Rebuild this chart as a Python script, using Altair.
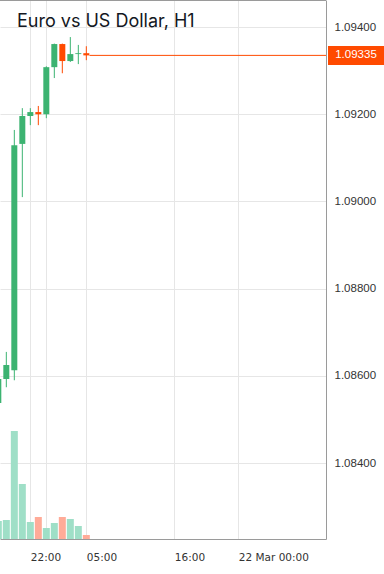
import altair as alt
import pandas as pd

chart_title = "Euro vs US Dollar, H1"
# hourly candles, hours counted from 21 Mar 00:00 (20 Mar 18:00 ... 21 Mar 05:00)
hours = [-6, -5, -4, -3, -2, -1, 0, 1, 2, 3, 4, 5]
opens = [1.08538, 1.08593, 1.08613, 1.09132, 1.09196, 1.09205, 1.09200, 1.09308, 1.09361, 1.09322, 1.09338, 1.09340]
highs = [1.08600, 1.08655, 1.09164, 1.09214, 1.09214, 1.09219, 1.09310, 1.09362, 1.09362, 1.09377, 1.09359, 1.09356]
lows = [1.08520, 1.08574, 1.08590, 1.09010, 1.09175, 1.09175, 1.09191, 1.09283, 1.09294, 1.09320, 1.09315, 1.09324]
closes = [1.08593, 1.08625, 1.09129, 1.09196, 1.09205, 1.09200, 1.09308, 1.09361, 1.09322, 1.09338, 1.09340, 1.09335]
volumes = [1800, 1900, 10800, 5500, 1700, 2200, 1100, 1600, 2200, 2000, 1300, 400]
last_price = 1.09335

price_ticks = [1.084, 1.086, 1.088, 1.090, 1.092, 1.094]
time_ticks = [-2, 0, 5, 16, 24]
time_labels = ["22:00", "", "05:00", "16:00", "22 Mar 00:00"]

x_domain = [-5.79, 34.96]
y_domain = [1.08226, 1.09462]
vol_domain = [0, 53900]

GREEN = "#3cb371"
RED = "#ff4a00"
VGREEN = "#9fdfc7"
VRED = "#ffab98"
GRID = "#e6e6e6"
FRAME = "#9a9a9a"

W, H = 326, 539

df = pd.DataFrame({"h": hours, "o": opens, "hi": highs, "lo": lows, "c": closes, "v": volumes})
df["up"] = df["c"] >= df["o"]

label_expr = " : ".join(f"datum.value == {t} ? '{l}'" for t, l in zip(time_ticks, time_labels)) + " : ''"

xs = alt.Scale(domain=x_domain, nice=False, zero=False, padding=0)
ys = alt.Scale(domain=y_domain, nice=False, zero=False, padding=0)

x_axis = alt.Axis(values=time_ticks, labelExpr=label_expr, grid=True, gridColor=GRID,
                  domainColor=FRAME, ticks=False, labelAlign="left", labelBaseline="top",
                  labelPadding=13, labelFont="DejaVu Sans", labelFontSize=10.5,
                  labelColor="#333333", labelOverlap=False, labelFlush=False, title=None)
y_axis = alt.Axis(values=price_ticks, format=".5f", orient="right", grid=True, gridColor=GRID,
                  domainColor=FRAME, ticks=False, labelPadding=8, labelFont="Liberation Sans",
                  labelFontSize=11.5, labelColor="#333333", labelFlush=False, title=None)

X = alt.X("h:Q", scale=xs, axis=x_axis)
color = alt.condition("datum.up", alt.value(GREEN), alt.value(RED))

vol = alt.Chart(df).mark_bar(size=7, orient="vertical").encode(
    x=X,
    y=alt.Y("v:Q", scale=alt.Scale(domain=vol_domain, nice=False, padding=0), axis=None),
    color=alt.condition("datum.up", alt.value(VGREEN), alt.value(VRED)),
)

wicks = alt.Chart(df).mark_rule(strokeWidth=1).encode(
    x=X,
    y=alt.Y("lo:Q", scale=ys, axis=y_axis),
    y2="hi:Q",
    color=color,
)
bodies = alt.Chart(df).mark_bar(size=6, orient="vertical").encode(
    x=X,
    y=alt.Y("o:Q", scale=ys, axis=y_axis),
    y2="c:Q",
    color=color,
)

line_df = pd.DataFrame({"x1": [hours[-1] + 0.4], "x2": [x_domain[1]], "p": [last_price]})
price_line = alt.Chart(line_df).mark_rule(color=RED, strokeWidth=1).encode(
    x=alt.X("x1:Q", scale=xs, axis=x_axis),
    x2="x2:Q",
    y=alt.Y("p:Q", scale=ys, axis=y_axis),
)

lbl_df = pd.DataFrame({"p": [last_price], "t": [f"{last_price:.5f}"]})
price_box = alt.Chart(lbl_df).mark_rect(color=RED, yOffset=-9.5, y2Offset=9.5).encode(
    x=alt.value(W + 2), x2=alt.value(W + 58),
    y=alt.Y("p:Q", scale=ys, axis=y_axis), y2="p:Q",
)
price_text = alt.Chart(lbl_df).mark_text(color="white", font="Liberation Sans", fontSize=11.5,
                                         align="center", baseline="middle").encode(
    x=alt.value(W + 30),
    y=alt.Y("p:Q", scale=ys, axis=y_axis),
    text="t:N",
)

top_border = alt.Chart(pd.DataFrame({"a": [0]})).mark_rule(color=FRAME, strokeWidth=1).encode(
    x=alt.value(0), x2=alt.value(W), y=alt.value(0.5)
)

title_layer = alt.Chart(pd.DataFrame({"t": [chart_title]})).mark_text(
    align="left", baseline="alphabetic", font="Inter", fontSize=18, color="#131722"
).encode(x=alt.value(17), y=alt.value(27), text="t:N")

price_layers = alt.layer(wicks, bodies, price_line, price_box, price_text, top_border, title_layer)

chart = alt.layer(vol, price_layers).resolve_scale(y="independent").properties(
    width=W, height=H,
    autosize=alt.AutoSizeParams(type="none"),
    padding={"left": 0, "top": 0, "right": 58, "bottom": 35},
    background="white",
).configure_view(stroke=None)

chart.save("out.html", embed_options={"renderer": "svg", "actions": False})
